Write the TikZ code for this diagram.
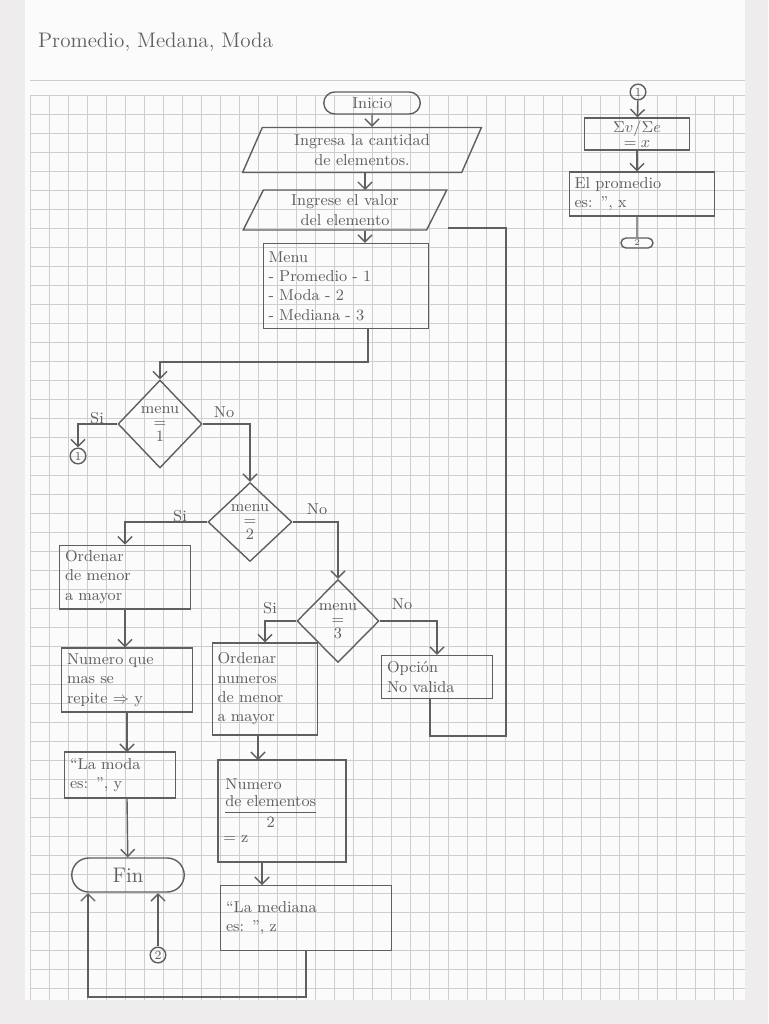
\documentclass[tikz,border=0pt]{standalone}
\usepackage{amsmath}
\usetikzlibrary{shapes.geometric,shapes.misc,arrows.meta}
\definecolor{pencil}{RGB}{95,95,95}
\definecolor{paper}{RGB}{238,236,236}
\definecolor{gridc}{RGB}{205,205,212}
\tikzset{
  box/.style={draw=pencil,thick,rectangle,minimum width=#1,text=pencil,align=center,inner sep=2pt},
  lbox/.style={draw=pencil,thick,rectangle,text width=#1,text=pencil,align=left,inner sep=3pt},
  term/.style={draw=pencil,thick,rounded rectangle,minimum width=#1,text=pencil,inner sep=1pt},
  datain/.style={draw=pencil,thick,trapezium,trapezium left angle=68,trapezium right angle=112,trapezium stretches=true,minimum width=#1,text=pencil,align=center,inner sep=1pt},
  cond/.style={draw=pencil,thick,diamond,inner sep=0pt,text=pencil,align=center},
  conn/.style={draw=pencil,thick,circle,inner sep=1pt,text=pencil,font=\scriptsize},
  lbl/.style={text=pencil},
  line/.style={draw=pencil,thick},
  arr/.style={draw=pencil,thick,-{Straight Barb[length=4pt]}}
}
\begin{document}
\begin{tikzpicture}[x=0.02cm,y=-0.02cm]
  \useasboundingbox (0,0) rectangle (768,1024);
  \fill[paper] (0,0) rectangle (768,1024);
  \fill[white!97!gray] (25,0) rectangle (745,1000);
  \foreach \gx in {30,49,...,745} \draw[gridc] (\gx,95) -- (\gx,1000);
  \foreach \gy in {95,114,...,1000} \draw[gridc] (30,\gy) -- (745,\gy);
  \draw[gridc] (30,80) -- (745,80);
  \node[lbl,anchor=west,font=\large] (title) at (32,42) {Promedio, Medana, Moda};

  % main column
  \node[term=2cm,minimum height=0.44cm,font=\small] (ini) at (372,103) {Inicio};
  \node[datain=4.8cm,minimum height=0.9cm,font=\small] (in1) at (362,150) {Ingresa la cantidad\\de elementos.};
  \node[datain=4.1cm,minimum height=0.8cm,font=\small] (in2) at (345,210) {Ingrese el valor\\del elemento};
  \node[lbox=3.1cm,minimum height=1.7cm,font=\small] (menu) at (346,286)
    {Menu\\- Promedio - 1\\- Moda - 2\\- Mediana - 3};
  \draw[arr] (ini) -- (ini |- in1.north);
  \draw[arr] (in1.south -| 365,0) -- (365,190);
  \draw[arr] (in2.south -| 365,0) -- (menu.north -| 365,0);

  \node[cond,minimum width=1.68cm,minimum height=1.76cm,font=\small] (m1) at (160,424) {menu\\[-3pt]=\\[-3pt]1};
  \node[cond,minimum width=1.68cm,minimum height=1.58cm,font=\small] (m2) at (250,522) {menu\\[-3pt]=\\[-3pt]2};
  \node[cond,minimum width=1.64cm,minimum height=1.66cm,font=\small] (m3) at (338,621) {menu\\[-3pt]=\\[-3pt]3};
  \draw[arr] (menu.south -| 368,0) |- (160,362) -- (m1.north);
  \draw[arr] (m1.east) -| (m2.north);
  \draw[arr] (m2.east) -| (m3.north);
  \node[lbl,font=\small] (s1) at (97,418) {Si};
  \node[lbl,font=\small] (n1) at (224,412) {No};
  \node[lbl,font=\small] (s2) at (180,516) {Si};
  \node[lbl,font=\small] (n2) at (317,509) {No};
  \node[lbl,font=\small] (s3) at (270,608) {Si};
  \node[lbl,font=\small] (n3) at (402,604) {No};

  \node[conn] (c1a) at (78,456) {1};
  \draw[arr] (m1.west) -| (c1a.north);

  % moda
  \node[lbox=2.4cm,minimum height=1.26cm,font=\small] (ord1) at (125,577) {Ordenar\\de menor\\a mayor};
  \node[lbox=2.4cm,minimum height=1.28cm,font=\small] (rep) at (127,680) {Numero que\\mas se\\repite $\Rightarrow$ y};
  \node[lbox=2cm,minimum height=0.92cm,font=\small] (moda) at (120,775) {``La moda\\es: '', y};
  \node[term=2.32cm,minimum height=0.68cm,font=\large] (fin) at (128,875) {Fin};
  \draw[arr] (m2.west) -| (ord1.north);
  \draw[arr] (ord1) -- (ord1 |- rep.north);
  \draw[arr] (rep.south -| 127,0) -- (127,752);
  \draw[arr] (moda.south -| 127,0) -- (fin);

  % mediana
  \node[lbox=1.9cm,minimum height=1.84cm,font=\small] (ord2) at (265,689) {Ordenar\\numeros\\de menor\\a mayor};
  \node[lbox=2.35cm,minimum height=2.04cm,font=\small] (num) at (282,811)
    {$\dfrac{\text{\shortstack[l]{Numero\\de elementos}}}{2}$\\[4pt]$=$ z};
  \node[lbox=3.2cm,minimum height=1.3cm,font=\small] (med) at (306,918) {``La mediana\\es: '', z};
  \draw[arr] (m3.west) -| (ord2.north);
  \draw[arr] (ord2.south -| 258,0) -- (258,760);
  \draw[arr] (num.south -| 262,0) -- (262,885);
  \draw[arr] (med.south) |- (88,997) -- (88,893);
  \node[conn] (c2b) at (158,955) {2};
  \draw[arr] (c2b) -- (158,893);

  % opcion no valida
  \node[lbox=2cm,minimum height=0.86cm,font=\small] (inv) at (437,677) {Opción\\No valida};
  \draw[arr] (m3.east) -| (inv.north);
  \coordinate (back) at (448,228);
  \draw[line] (inv.south -| 430,0) |- (506,736) |- (back);

  % promedio
  \node[conn] (c1b) at (638,92) {1};
  \node[box=2.1cm,minimum height=0.64cm,inner sep=0pt,font=\small] (sum) at (637,134) {$\Sigma v/\Sigma e$\\[-2pt]$=x$};
  \node[lbox=2.7cm,minimum height=0.86cm,font=\small] (prom) at (642,194) {El promedio\\es: '', x};
  \node[term=0.64cm,minimum height=0.2cm,inner sep=0pt,font=\tiny] (c2a) at (637,243) {2};
  \draw[arr] (c1b) -- (sum);
  \draw[arr] (sum) -- (sum |- prom.north);
  \draw[line] (prom.south -| c2a) -- (c2a);
\end{tikzpicture}
\end{document}
